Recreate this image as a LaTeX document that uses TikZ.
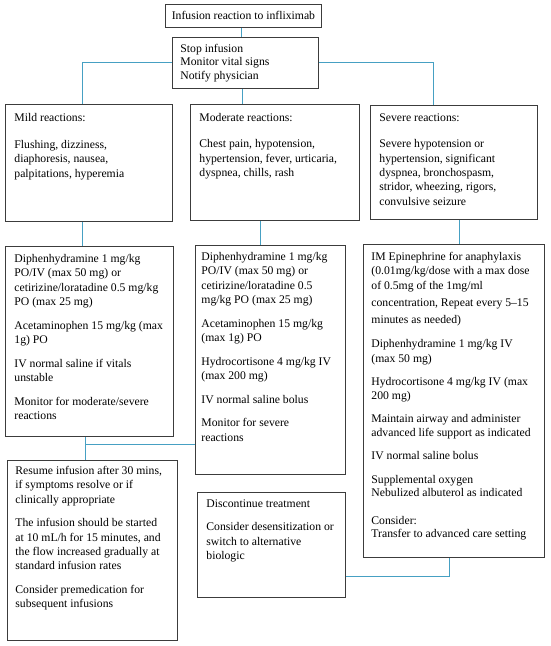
\documentclass[tikz,border=0pt]{standalone}
\usepackage{fontspec}
\setmainfont{Liberation Serif}
\definecolor{conn}{RGB}{70,160,195}
\definecolor{edgegray}{RGB}{60,60,60}
\newcommand\bx[4][9pt]{\parbox[c][#3][t]{#2}{\raggedright\leftskip=#1\relax #4}}
\newcommand\pg{\\[9.2pt]}
\begin{document}
\begin{tikzpicture}[x=1pt,y=-1pt,
  box/.style={draw=edgegray, line width=0.85pt, anchor=north west, inner xsep=0pt, inner ysep=7pt,
    font=\fontsize{11.7}{14.4}\selectfont},
  link/.style={draw=conn, line width=0.9pt}]
\useasboundingbox (0,0) rectangle (550,646);

\node[box, inner ysep=0pt] (top) at (165,4)
  {\parbox[c][23pt][c]{156pt}{\centering Infusion reaction to infliximab}};
\node[box, inner ysep=0pt] (stop) at (172,37)
  {\parbox[c][51pt][c]{146pt}{\raggedright\leftskip=8pt\fontsize{11.7}{13.5}\selectfont
   Stop infusion\\Monitor vital signs\\Notify physician}};

\node[box, inner ysep=9pt] (mild) at (5,104)
  {\bx{167pt}{99pt}{Mild reactions:\\[12.3pt]Flushing, dizziness,\\diaphoresis, nausea,\\palpitations, hyperemia}};
\node[box, inner ysep=8.5pt] (moderate) at (190,104)
  {\bx{169pt}{99pt}{Moderate reactions:\\[12.3pt]Chest pain, hypotension,\\hypertension, fever, urticaria,\\dyspnea, chills, rash}};
\node[box, inner ysep=8.3pt] (severe) at (370,105)
  {\bx{167pt}{97.4pt}{Severe reactions:\\[11.8pt]Severe hypotension or\\hypertension, significant\\dyspnea, bronchospasm,\\stridor, wheezing, rigors,\\convulsive seizure}};

\node[box, inner ysep=8pt] (mildtx) at (5,246)
  {\bx{168pt}{174pt}{Diphenhydramine 1 mg/kg\\PO/IV (max 50 mg) or\\cetirizine/loratadine 0.5 mg/kg\\PO (max 25 mg)\pg
   Acetaminophen 15 mg/kg (max\\1g) PO\pg
   IV normal saline if vitals\\unstable\pg
   Monitor for moderate/severe\\reactions}};
\node[box, inner ysep=6.7pt] (modtx) at (195,245)
  {\bx[6pt]{150pt}{215.6pt}{Diphenhydramine 1 mg/kg\\PO/IV (max 50 mg) or\\cetirizine/loratadine 0.5\\mg/kg PO (max 25 mg)\pg
   Acetaminophen 15 mg/kg\\(max 1g) PO\pg
   Hydrocortisone 4 mg/kg IV\\(max 200 mg)\pg
   IV normal saline bolus\pg
   Monitor for severe\\reactions}};
\node[box, inner ysep=7.7pt] (sevtx) at (363,244)
  {\bx[8pt]{181pt}{297.6pt}{IM Epinephrine for anaphylaxis\\(0.01mg/kg/dose with a max dose\\of 0.5mg of the 1mg/ml\\[3.2pt]
   concentration, Repeat every 5–15\\[2.3pt]minutes as needed)\\[9.9pt]
   Diphenhydramine 1 mg/kg IV\\(max 50 mg)\\[9pt]
   Hydrocortisone 4 mg/kg IV (max\\200 mg)\\[7.9pt]
   Maintain airway and administer\\advanced life support as indicated\\[8.9pt]
   IV normal saline bolus\\[9pt]
   Supplemental oxygen\\[-0.8pt]Nebulized albuterol as indicated\\[13pt]
   Consider:\\[-1pt]Transfer to advanced care setting}};

\node[box, inner ysep=5.7pt] (resume) at (7,460)
  {\bx[8pt]{170pt}{168.6pt}{Resume infusion after 30 mins,\\if symptoms resolve or if\\clinically appropriate\pg
   The infusion should be started\\at 10 mL/h for 15 minutes, and\\the flow increased gradually at\\standard infusion rates\pg
   Consider premedication for\\subsequent infusions}};
\node[box, inner ysep=7pt] (discont) at (197,492)
  {\bx{148pt}{91pt}{Discontinue treatment\pg
   Consider desensitization or\\switch to alternative\\biologic}};

% connectors
\draw[link] ([xshift=-2pt]top.south) -- ([xshift=-2pt]top.south |- stop.north);
\draw[link] (stop.west) -| ([xshift=77pt]mild.north west);
\draw[link] (stop.east) -| ([xshift=63pt]severe.north west);
\draw[link] ([xshift=-3pt]stop.south) -- ([xshift=-3pt]stop.south |- moderate.north);
\draw[link] ([xshift=77pt]mild.south west) -- ([xshift=77pt]mild.south west |- mildtx.north);
\draw[link] ([xshift=70pt]moderate.south west) -- ([xshift=70pt]moderate.south west |- modtx.north);
\draw[link] ([xshift=89pt]severe.south west) -- ([xshift=89pt]severe.south west |- sevtx.north);
\draw[link] ([xshift=80pt]mildtx.south west) -- ([xshift=80pt]mildtx.south west |- resume.north);
\draw[link] ([xshift=80pt,yshift=-8pt]mildtx.south west) -- ([yshift=-8pt]mildtx.south west -| modtx.west);
\draw[link] ([yshift=21pt]discont.south east) -| ([xshift=86pt]sevtx.south west);
\end{tikzpicture}
\end{document}
